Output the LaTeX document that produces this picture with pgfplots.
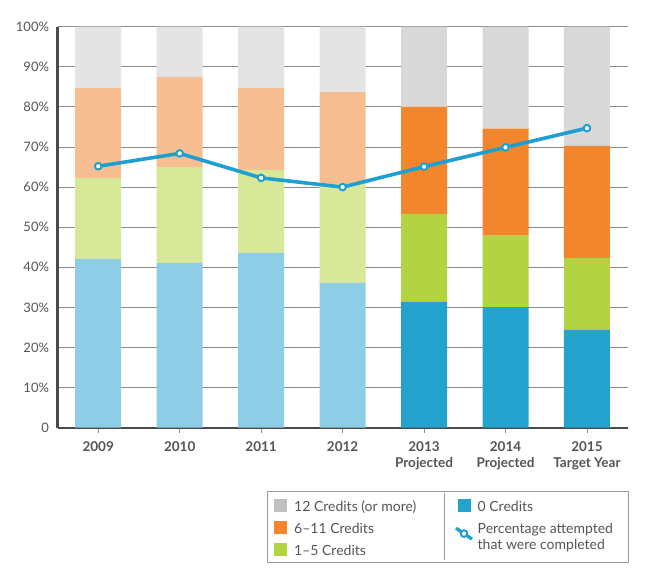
\documentclass[border=0pt]{standalone}
\usepackage{fontspec}
\setmainfont{Lato}
\usepackage{pgfplots}
\usepackage{pgfplotstable}
\pgfplotsset{compat=1.18}
\definecolor{grayL}{HTML}{E4E4E4}
\definecolor{orangeL}{HTML}{F7BF91}
\definecolor{greenL}{HTML}{D7E899}
\definecolor{blueL}{HTML}{8DCEE6}
\definecolor{grayD}{HTML}{D8D8D8}
\definecolor{orangeD}{HTML}{F1862D}
\definecolor{greenD}{HTML}{B3D342}
\definecolor{blueD}{HTML}{23A3CE}
\definecolor{grayLeg}{HTML}{C0C0C0}
\definecolor{linec}{HTML}{1E9FD2}
\definecolor{axisc}{HTML}{4A4A4A}
\definecolor{gridc}{HTML}{8A8A8A}
\definecolor{labelc}{HTML}{555555}
\definecolor{legc}{HTML}{9A9A9A}

\pgfplotstableread{
x bL bD gL gD oL oD tL tD
0 42.1 0 20.2 0 22.4 0 15.3 0
1 41.1 0 23.9 0 22.5 0 12.5 0
2 43.6 0 20.7 0 20.4 0 15.3 0
3 36.1 0 24.7 0 22.9 0 16.3 0
4 0 31.4 0 21.9 0 26.7 0 20.0
5 0 30.1 0 17.8 0 26.7 0 25.4
6 0 24.4 0 17.9 0 28.0 0 29.7
}\bars

\pgfplotstableread{
x c
0 65.2
1 68.4
2 62.3
3 60.0
4 65.1
5 69.9
6 74.7
}\compl

\begin{document}
\begin{tikzpicture}
\fill[white] (0,0) rectangle (647pt,579pt);
\begin{axis}[
  at={(57.5pt,151.3pt)}, anchor=south west,
  scale only axis, width=570.2pt, height=401pt,
  xmin=-0.5, xmax=6.5, ymin=0, ymax=100,
  ybar stacked, bar width=46pt,
  axis x line=bottom, axis y line=left,
  axis line style={-, line width=2.4pt, draw=axisc},
  ymajorgrids, grid style={draw=gridc, line width=0.9pt},
  xtick={0,1,2,3,4,5,6},
  xticklabels={2009,2010,2011,2012,{2013\\Projected},{2014\\Projected},{2015\\Target Year}},
  ytick={0,10,20,30,40,50,60,70,80,90,100},
  yticklabels={0,10\%,20\%,30\%,40\%,50\%,60\%,70\%,80\%,90\%,100\%},
  tick align=outside,
  major tick length=5pt,
  xtick style={draw=gridc, line width=0.8pt},
  ytick style={draw=none},
  xticklabel style={align=center, yshift=-5.5pt, font=\fontsize{13.5}{15.8}\selectfont\bfseries, text=labelc},
  yticklabel style={font=\fontsize{13}{14}\selectfont, text=labelc},
  legend columns=3, transpose legend,
  legend style={
    at={(rel axis cs:0.3669,-0.1571)}, anchor=north west, name=leg,
    draw=legc, line width=0.8pt, fill=white,
    inner xsep=7pt, inner ysep=6pt,
    row sep=7pt,
    nodes={inner sep=0pt, text height=14pt, text depth=1pt, font=\fontsize{14}{16}\selectfont, text=labelc},
    cells={anchor=base west},
    /tikz/every odd column/.append style={column sep=7.3pt},
    /tikz/every even column/.append style={column sep=23.4pt},
  },
]
\addlegendimage{legend image code/.code={\fill[grayLeg] (0pt,0pt) rectangle (12pt,11.5pt);}}
\addlegendentry{\makebox[140pt][l]{12 Credits (or more)}}
\addlegendimage{legend image code/.code={\fill[orangeD] (0pt,0pt) rectangle (12pt,11.5pt);}}
\addlegendentry{\makebox[140pt][l]{6–11 Credits}}
\addlegendimage{legend image code/.code={\fill[greenD] (0pt,0pt) rectangle (12pt,11.5pt);}}
\addlegendentry{\makebox[140pt][l]{1–5 Credits}}
\addlegendimage{legend image code/.code={\fill[blueD] (0pt,0pt) rectangle (12pt,11.5pt);}}
\addlegendentry{\makebox[144pt][l]{0 Credits}}
\addlegendimage{legend image code/.code={
  \path[draw=none, fill=none] (0pt,0pt) rectangle (12pt,11.5pt);
  \draw[overlay, draw=linec, line width=3.2pt] (-2pt,5pt) -- (14pt,-6pt);
  \draw[overlay, draw=linec, fill=white, line width=2pt] (6pt,-0.5pt) circle (3.3pt);}}
\addlegendentry{\makebox[144pt][l]{\smash{\begin{tabular}[t]{@{}l@{}}Percentage attempted\\that were completed\end{tabular}}}}

\addplot[fill=blueL, draw=none, forget plot] table[x=x, y=bL]{\bars};
\addplot[fill=blueD, draw=none, forget plot] table[x=x, y=bD]{\bars};
\addplot[fill=greenL, draw=none, forget plot] table[x=x, y=gL]{\bars};
\addplot[fill=greenD, draw=none, forget plot] table[x=x, y=gD]{\bars};
\addplot[fill=orangeL, draw=none, forget plot] table[x=x, y=oL]{\bars};
\addplot[fill=orangeD, draw=none, forget plot] table[x=x, y=oD]{\bars};
\addplot[fill=grayL, draw=none, forget plot] table[x=x, y=tL]{\bars};
\addplot[fill=grayD, draw=none, forget plot] table[x=x, y=tD]{\bars};
\end{axis}
\begin{axis}[
  at={(57.5pt,151.3pt)}, anchor=south west,
  scale only axis, width=570.2pt, height=401pt,
  xmin=-0.5, xmax=6.5, ymin=0, ymax=100,
  hide axis,
]
\addplot[color=linec, line width=3.6pt, line join=round, mark=*, mark size=3.3pt,
  mark options={fill=white, draw=linec, line width=2pt}] table[x=x, y=c]{\compl};
\end{axis}
\draw[legc, line width=0.8pt] ([xshift=177.6pt, yshift=-2.3pt]leg.north west) -- ([xshift=177.6pt, yshift=2.3pt]leg.south west);
\end{tikzpicture}
\end{document}
